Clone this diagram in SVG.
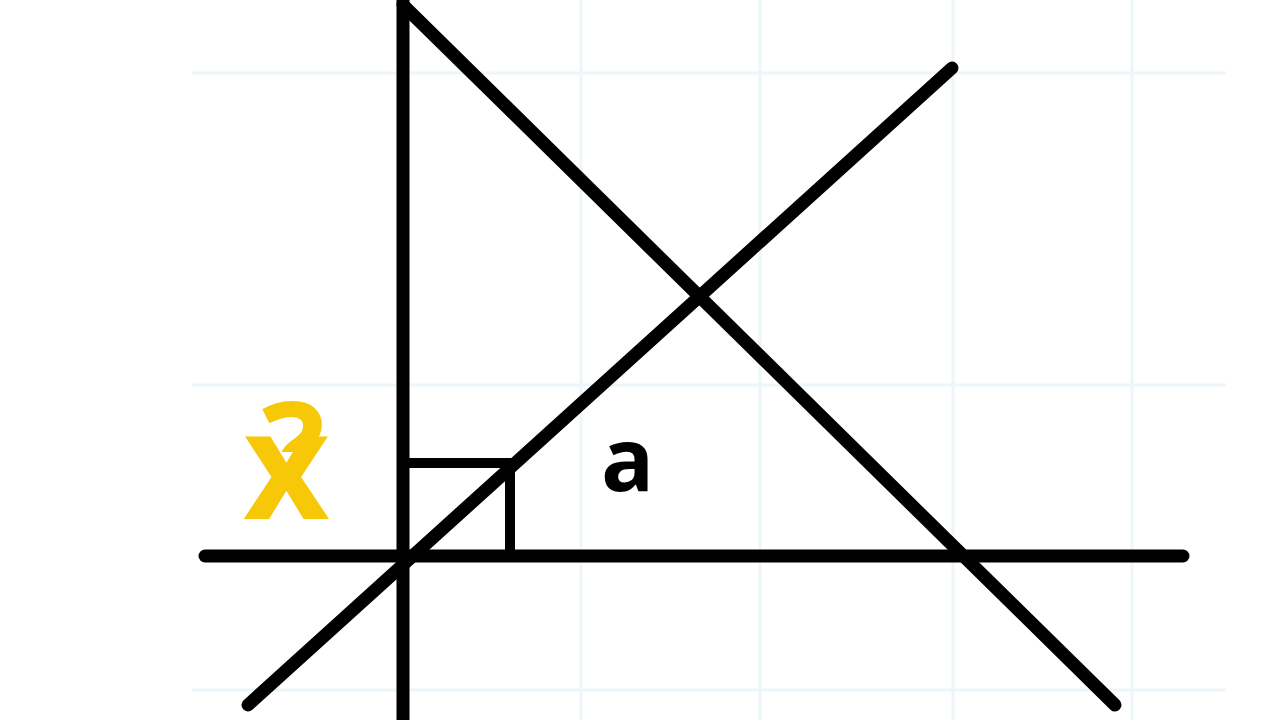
<svg xmlns="http://www.w3.org/2000/svg" width="1280" height="720" viewBox="0 0 1280 720">
<style>
.grid{stroke:#edf6fb;stroke-width:3;fill:none}
.ln{stroke:#000;stroke-width:13;stroke-linecap:round;fill:none}
.sq{stroke:#000;stroke-width:10;fill:none}
.lbl{font-family:"Open Sans","Liberation Sans",sans-serif;font-weight:700}
</style>
<defs>
<clipPath id="qclip"><rect x="240" y="380" width="100" height="72"/></clipPath>
</defs>
<rect width="1280" height="720" fill="#fff"/>
<g id="grid">
<line class="grid" x1="192" y1="73" x2="1226" y2="73"/>
<line class="grid" x1="192" y1="385" x2="1226" y2="385"/>
<line class="grid" x1="192" y1="690" x2="1226" y2="690"/>
<line class="grid" x1="581" y1="0" x2="581" y2="720"/>
<line class="grid" x1="760" y1="0" x2="760" y2="720"/>
<line class="grid" x1="953" y1="0" x2="953" y2="720"/>
<line class="grid" x1="1132" y1="0" x2="1132" y2="720"/>
</g>
<g id="connectors">
<line class="ln" x1="403" y1="0" x2="403" y2="726" stroke-linecap="butt"/>
<line class="ln" x1="205" y1="556" x2="1183" y2="556"/>
<line class="ln" x1="403" y1="5" x2="1115" y2="705"/>
<line class="ln" x1="248" y1="705" x2="952" y2="68"/>
<polyline class="sq" points="403,463 510,463 510,556"/>
</g>
<g id="label-x">
<text class="lbl" x="243" y="519" font-size="150" fill="#F6C808">x</text>
<text class="lbl" x="262" y="497" font-size="132" fill="#F6C808" clip-path="url(#qclip)">?</text>
</g>
<g id="label-a">
<text class="lbl" x="601" y="491" font-size="88" fill="#000">a</text>
</g>
</svg>
